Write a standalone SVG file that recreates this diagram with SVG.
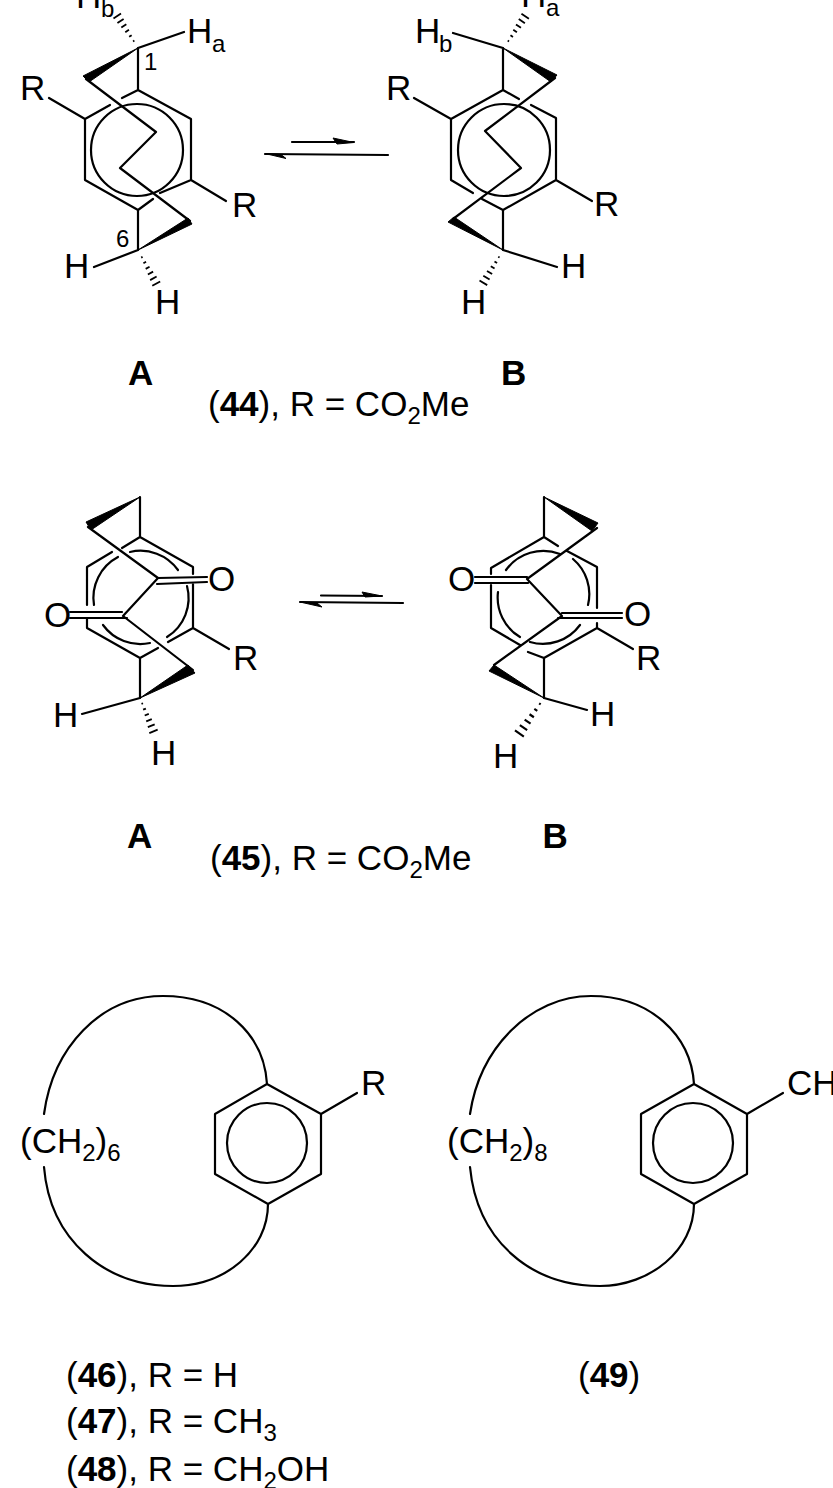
<svg xmlns="http://www.w3.org/2000/svg" width="833" height="1488" viewBox="0 0 833 1488">
<style>
text{font-family:"Liberation Sans",Arial,sans-serif;font-size:35px;fill:#000}
.s{font-size:24px}
.n{font-size:24px}
.b{font-weight:bold}
.l{fill:none;stroke:#000;stroke-width:2.2;stroke-linecap:round;stroke-linejoin:round}
.f{fill:#000;stroke:#000;stroke-width:1;stroke-linejoin:round}
</style>
<defs>
<g id="hash" class="l" style="stroke-width:1.8;stroke-linecap:butt">
<path d="M6,-.8V.8M12,-1.5V1.5M18,-2.2V2.2M24,-3V3M30,-3.7V3.7M36,-4.5V4.5"/>
</g>
</defs>
<rect width="833" height="1488" fill="#fff"/>
<g id="connectors">
<path class="l" d="M292,142H354M388,155L265,154"/>
<polygon class="f" points="333,138 354,142.5 337,144"/>
<polygon class="f" points="265,153.5 286,158.5 281,154.5"/>
<path class="l" d="M321,595.5L382,596M403,603L300,602"/>
<polygon class="f" points="362,592 382,596 365,597"/>
<polygon class="f" points="300,602 322,607 317,603"/>
</g>
<g id="m44A">
<path class="l" d="M138,48V90L122,98M110,105L85,119V180L138,210L153,199M160,193L191,180V119L138,90M138,210V250M138,48L184,32M138,250L94,267M85,119L49,98M191,180L226,201M86,79L156,132L120,168L190,221"/>
<circle class="l" cx="137" cy="150" r="46"/>
<polygon class="f" points="138,48 83,76 89,82"/>
<polygon class="f" points="138,250 188,218 192,224"/>
<use href="#hash" transform="translate(137,46) rotate(-123.3)"/>
<use href="#hash" transform="translate(139,252) rotate(61.4)"/>
<text x="76" y="8">H</text><text class="s" x="101" y="17">b</text>
<text x="187" y="43">H</text><text class="s" x="212" y="52">a</text>
<text x="20" y="100">R</text><text x="232" y="217">R</text>
<text x="64" y="278">H</text><text x="155" y="314">H</text>
<text class="n" x="144" y="70">1</text><text class="n" x="116" y="247">6</text>
</g>
<g id="m44B">
<path class="l" d="M503,48V90L519,99M531,105L556,118V180L503,210L482,199M473,193L451,180V119L503,90M503,210V250M503,48L453,33M503,250L557,267M451,119L414,98M556,180L592,201M555,78L485,131L521,168L453,219"/>
<circle class="l" cx="504" cy="150" r="46"/>
<polygon class="f" points="503,48 557,75 551,82"/>
<polygon class="f" points="503,250 448,222 454,217"/>
<use href="#hash" transform="translate(505,46) rotate(-55.9)"/>
<use href="#hash" transform="translate(502,252) rotate(121.2)"/>
<text x="415" y="43">H</text><text class="s" x="439" y="52">b</text>
<text x="521" y="7">H</text><text class="s" x="546" y="16">a</text>
<text x="386" y="100">R</text><text x="594" y="216">R</text>
<text x="561" y="278">H</text><text x="461" y="314">H</text>
</g>
<g id="l44">
<text class="b" x="128" y="385">A</text><text class="b" x="501" y="385">B</text>
<text x="208" y="415.5">(<tspan class="b">44</tspan>), R = CO<tspan class="s" dy="8">2</tspan><tspan dy="-8">Me</tspan></text>
</g>
<g id="m45A">
<path class="l" d="M140,497V537L122,548M112,552L87,567V605M87,618V628L140,658L158,648M168,642L193,628V584M193,574V567L140,537M140,658V698M140,698L82,714M193,628L229,649M88,527L158,578L123,616L193,670M158,578L207,577M157,584L207,582M70,612L122,612M70,618L127,618"/>
<path class="l" d="M118,557A46,46 0 0 0 94,605M103,625A46,46 0 0 0 150,643M130,552A46,46 0 0 1 178,570M187,586A46,46 0 0 1 167,637"/>
<polygon class="f" points="140,497 86,522 91,530"/>
<polygon class="f" points="140,698 188,665 195,673"/>
<use href="#hash" transform="translate(140,698) rotate(68)"/>
<text x="208" y="591">O</text><text x="44" y="627">O</text><text x="233" y="670">R</text>
<text x="53" y="727">H</text><text x="151" y="765">H</text>
</g>
<g id="m45B">
<path class="l" d="M544,497V537L558,546M567,551L597,567V608M597,623V628L544,658L528,652M520,645L491,628V585M491,574V568L544,537M544,658V698M544,698L587,710M597,628L633,649M597,528L527,579L562,616L494,665M475,577H527M475,583H528M562,613H622M558,618H622"/>
<path class="l" d="M506,570A46,46 0 0 1 560,554M573,559A46,46 0 0 1 588,605M498,592A46,46 0 0 0 520,637M530,642A46,46 0 0 0 580,625"/>
<polygon class="f" points="544,497 598,523 592,531"/>
<polygon class="f" points="544,698 489,671 494,665"/>
<use href="#hash" transform="translate(544,698) rotate(124.7) scale(1.2)"/>
<text x="448" y="591">O</text><text x="624" y="626">O</text><text x="636" y="670">R</text>
<text x="590" y="726">H</text><text x="493" y="768">H</text>
</g>
<g id="l45">
<text class="b" x="127" y="848">A</text><text class="b" x="542.500" y="848">B</text>
<text x="210" y="870">(<tspan class="b">45</tspan>), R = CO<tspan class="s" dy="8">2</tspan><tspan dy="-8">Me</tspan></text>
</g>
<g id="m46">
<path class="l" d="M267,1084L321,1114V1174L268,1204L215,1174V1114ZM321,1114L357,1093M267,1084C264,1035 225,996 163,996C100,996 53,1048 44,1114M268,1204C268,1250 225,1286 173,1286C105,1286 50,1240 44,1167"/>
<circle class="l" cx="267" cy="1143" r="40"/>
<text x="361" y="1095">R</text>
<text x="20" y="1153">(CH<tspan class="s" dy="8">2</tspan><tspan dy="-8">)</tspan><tspan class="s" dy="8">6</tspan></text>
</g>
<g id="m49">
<path class="l" d="M694,1084L747,1114V1174L694,1204L641,1174V1114ZM747,1114L783,1093M694,1084C691,1035 650,996 591,996C530,996 480,1048 470,1114M694,1204C694,1250 650,1286 600,1286C530,1286 477,1240 470,1167"/>
<circle class="l" cx="693" cy="1143" r="40"/>
<text x="787" y="1095">CH</text>
<text x="447" y="1153">(CH<tspan class="s" dy="8">2</tspan><tspan dy="-8">)</tspan><tspan class="s" dy="8">8</tspan></text>
</g>
<g id="labels">
<text x="66" y="1387">(<tspan class="b">46</tspan>), R = H</text>
<text x="66" y="1433">(<tspan class="b">47</tspan>), R = CH<tspan class="s" dy="8">3</tspan></text>
<text x="66" y="1481">(<tspan class="b">48</tspan>), R = CH<tspan class="s" dy="8">2</tspan><tspan dy="-8">OH</tspan></text>
<text x="578" y="1387">(<tspan class="b">49</tspan>)</text>
</g>
</svg>
